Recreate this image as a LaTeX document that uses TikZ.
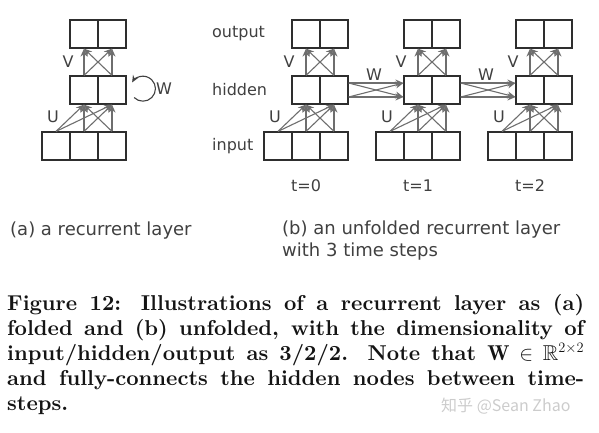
\documentclass[tikz,border=0pt]{standalone}
\usepackage{fontspec}
\usepackage{amssymb}
\usetikzlibrary{arrows.meta,calc}
\newfontfamily\labelfont{DejaVu Sans}
\newfontfamily\cjkfont{Noto Sans CJK SC}
\newfontfamily\capfont{lmroman10-bold.otf}
\definecolor{boxgray}{HTML}{2E2E2E}
\definecolor{arrowgray}{HTML}{6E6E6E}
\definecolor{textgray}{HTML}{404040}
\tikzset{
	unit/.style={draw=boxgray, line width=1.2pt, minimum size=28pt, inner sep=0pt},
	conn/.style={draw=arrowgray, line width=1.1pt, -{Stealth[length=8pt,width=7pt]}},
	lbl/.style={font=\labelfont\fontsize{16}{19}\selectfont, text=textgray, inner sep=0pt},
	sub/.style={font=\labelfont\fontsize{18}{22}\selectfont, text=textgray, inner sep=0pt, anchor=base west},
	figtext/.style={font=\capfont\fontsize{21.5}{25}\selectfont, text=black!92, inner sep=0pt, anchor=base west},
}
\begin{document}
\begin{tikzpicture}[x=1pt,y=-1pt]
	\useasboundingbox (0,0) rectangle (599,432);
	%folded layer
	\foreach \i in {1,2} {
		\node[unit] (fo\i) at (56+28*\i,34) {};
		\node[unit] (fh\i) at (56+28*\i,90) {};
	}
	\foreach \i in {1,2,3}
		\node[unit] (fi\i) at (28+28*\i,146) {};
	\foreach \a in {1,2,3}
		\foreach \b in {1,2}
			\draw[conn] (fi\a.north) -- (fh\b.south);
	\foreach \a in {1,2}
		\foreach \b in {1,2}
			\draw[conn] (fh\a.north) -- (fo\b.south);
	\coordinate (wstart) at ($(fh2.east)+(7.5,7.5)$);
	\draw[textgray, line width=1.1pt, -{Stealth[length=7pt,width=6pt]}] (wstart) arc[start angle=-135, end angle=150, radius=12.5pt];
	\node[lbl] (wf) at (164,89) {W};
	\node[lbl] (vf) at (68,62) {V};
	\node[lbl] (uf) at (53,117) {U};

	%unfolded layer
	\node[lbl, anchor=west] (outlbl) at (212,34) {output};
	\node[lbl, anchor=west] (hidlbl) at (212,90) {hidden};
	\node[lbl, anchor=west] (inlbl) at (212,146) {input};
	\foreach \t in {0,1,2} {
		\foreach \i in {1,2} {
			\node[unit] (o\t\i) at (278+112*\t+28*\i,34) {};
			\node[unit] (h\t\i) at (278+112*\t+28*\i,90) {};
		}
		\foreach \i in {1,2,3}
			\node[unit] (i\t\i) at (250+112*\t+28*\i,146) {};
		\foreach \a in {1,2,3}
			\foreach \b in {1,2}
				\draw[conn] (i\t\a.north) -- (h\t\b.south);
		\foreach \a in {1,2}
			\foreach \b in {1,2}
				\draw[conn] (h\t\a.north) -- (o\t\b.south);
		\node[lbl] (v\t) at (289+112*\t,62) {V};
		\node[lbl] (u\t) at (275+112*\t,117) {U};
		\node[lbl] (t\t) at (306+112*\t,186) {t=\t};
	}
	%time connections
	\foreach \t/\n in {0/1,1/2} {
		\draw[conn] ([yshift=7pt]h\t2.east) -- ([yshift=7pt]h\n1.west);
		\draw[conn] ([yshift=7pt]h\t2.east) -- ([yshift=-7pt]h\n1.west);
		\draw[conn] ([yshift=-7pt]h\t2.east) -- ([yshift=-7pt]h\n1.west);
		\draw[conn] ([yshift=-7pt]h\t2.east) -- ([yshift=7pt]h\n1.west);
		\node[lbl] (w\t) at (374+112*\t,75) {W};
	}

	%subcaptions
	\node[sub] (capa) at (10,235) {(a) a recurrent layer};
	\node[sub] (capb) at (282,234) {(b) an unfolded recurrent layer};
	\node[sub] (capc) at (282,256) {with 3 time steps};

	%caption
	\node[figtext] (cap1) at (7,310) {\makebox[577pt][s]{Figure 12: Illustrations of a recurrent layer as (a)}};
	\node[figtext] (cap2) at (7,335) {\makebox[577pt][s]{folded and (b) unfolded, with the dimensionality of}};
	\node[figtext] (cap3) at (7,360) {\makebox[577pt][s]{input/hidden/output as 3/2/2. Note that $\mathbf{W}\in\mathbb{R}^{2\times 2}$}};
	\node[figtext] (cap4) at (7,385) {\makebox[577pt][s]{and fully-connects the hidden nodes between time-}};
	\node[figtext] (cap5) at (7,410) {steps.};
	\node[anchor=base west, inner sep=0pt, text=black!20, font=\cjkfont\fontsize{16}{19}\selectfont] (mark) at (441,411) {知乎 @Sean Zhao};
\end{tikzpicture}
\end{document}
